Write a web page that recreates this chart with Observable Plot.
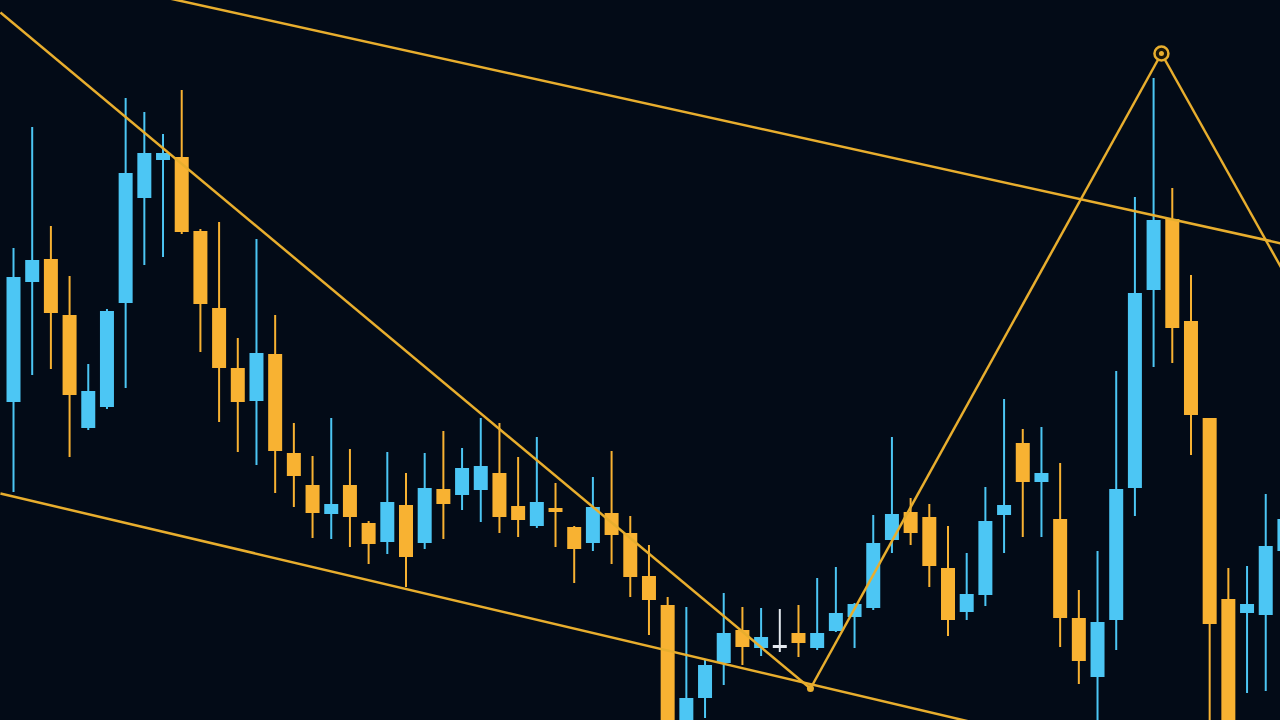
<!DOCTYPE html>
<html>
<head>
<meta charset="utf-8">
<script src="https://cdn.jsdelivr.net/npm/d3@7"></script>
<script src="https://cdn.jsdelivr.net/npm/@observablehq/plot@0.6"></script>
<style>
  html, body { margin: 0; padding: 0; background: #030b17; overflow: hidden; }
  #chart svg { display: block; }
</style>
</head>
<body>
<div id="chart"></div>
<script>
// Candle values (price units), one entry per session
const open  = [318,438,461,405,292,313,417,522,560,563,489,412,352,319,366,267,235,206,235,197,178,215,177,231,225,230,247,214,194,212,193,177,207,187,144,115,-5,22,57,90,72,72,87,72,89,103,112,180,208,203,152,108,125,205,277,238,201,102,43,100,232,430,501,399,302,121,107,105,169];
const high  = [472,593,494,444,356,411,622,608,586,630,491,498,382,481,405,297,264,302,271,199,268,247,267,289,272,302,297,263,283,237,194,243,269,204,175,123,113,60,127,113,112,111,115,142,153,117,205,283,222,216,194,167,233,321,291,293,257,130,169,349,523,642,532,445,302,152,154,226,240];
const low   = [228,345,351,263,290,311,332,455,463,486,368,298,268,255,227,213,182,181,173,156,166,133,171,181,210,198,187,183,192,173,137,169,156,123,85,-5,-8,2,35,55,64,68,63,70,88,72,110,167,175,133,84,100,114,167,183,183,73,36,-5,70,204,353,357,265,-5,-5,27,29,100];
const close = [443,460,407,325,329,409,547,567,567,488,416,352,318,367,269,244,207,216,203,176,218,163,232,216,252,254,203,200,218,208,171,213,185,143,120,-2,22,55,87,73,83,75,77,87,107,116,177,206,187,154,100,126,199,215,238,247,102,59,98,231,427,500,392,305,96,-5,116,174,201];
const dojiSessions = [41];

// Drawn trend lines (session index, price)
const trendFrom = [[-0.7,708],[-0.7,227],[42.64,32],[61.42,667],[7.87,724]];
const trendTo   = [[42.64,32],[52.27,-6],[61.42,667],[68.33,436],[68.33,475]];
const pivotMain = [[61.42,667]];
const pivotLow  = [[42.64,32]];

const candles = open.map((o, i) => ({
  i, open: o, high: high[i], low: low[i], close: close[i],
  kind: dojiSessions.includes(i) ? "doji" : (close[i] >= o ? "up" : "down")
}));
const links = trendFrom.map((a, k) => ({x1: a[0], y1: a[1], x2: trendTo[k][0], y2: trendTo[k][1]}));

const colorOf = k => k === "up" ? "#4cc6f4" : k === "down" ? "#f8b232" : "#e4e9ef";
const lineColor = "#e8ae2e";

const chart = Plot.plot({
  width: 1280,
  height: 720,
  margin: 0,
  style: {background: "#030b17", overflow: "hidden"},
  x: {domain: [-0.696, 67.79], axis: null},
  y: {domain: [0, 720], axis: null},
  marks: [
    Plot.ruleX(candles, {x: "i", y1: "low", y2: "high", stroke: d => colorOf(d.kind), strokeWidth: 2, clip: true}),
    Plot.ruleX(candles, {x: "i", y1: "open", y2: d => Math.abs(d.close - d.open) < 3 ? d.open + (d.close >= d.open ? 3 : -3) : d.close, stroke: d => colorOf(d.kind), strokeWidth: 14, strokeLinecap: "butt", clip: true}),
    Plot.link(links, {x1: "x1", y1: "y1", x2: "x2", y2: "y2", stroke: lineColor, strokeWidth: 2.5, clip: true}),
    Plot.dot(pivotLow, {x: d => d[0], y: d => d[1], r: 3.5, fill: lineColor, stroke: "none"}),
    Plot.dot(pivotMain, {x: d => d[0], y: d => d[1], r: 7, fill: "#1a1608", stroke: lineColor, strokeWidth: 2.5}),
    Plot.dot(pivotMain, {x: d => d[0], y: d => d[1], r: 2.5, fill: lineColor, stroke: "none"})
  ]
});
document.getElementById("chart").appendChild(chart);
</script>
</body>
</html>
